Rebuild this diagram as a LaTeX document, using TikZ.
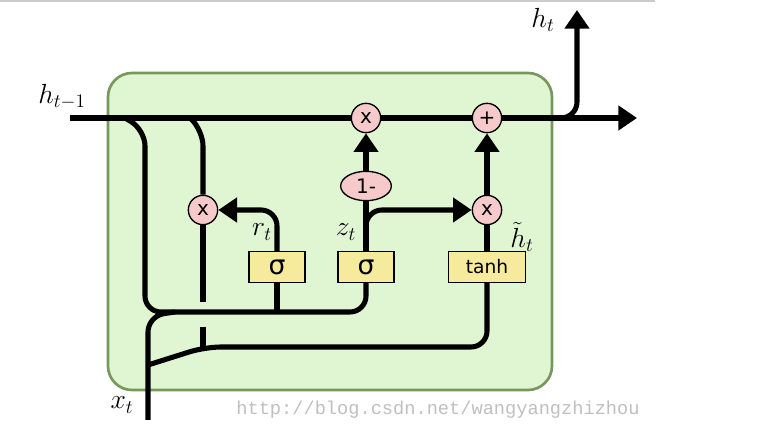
\documentclass[tikz,border=0pt]{standalone}
\usepackage{fontspec}
\newfontfamily\sansf{DejaVu Sans}
\newfontfamily\monof{Liberation Mono}
\usetikzlibrary{arrows.meta,shapes.geometric}
\definecolor{boxgreen}{HTML}{E0F5D2}
\definecolor{boxedge}{HTML}{77985C}
\definecolor{pinkc}{HTML}{F6C9CB}
\definecolor{yel}{HTML}{F6EA9C}
\begin{document}
\begin{tikzpicture}[x=0.75pt,y=-0.75pt,
  wire/.style={line width=3.8pt,rounded corners=12pt},
  arr/.style={wire,-{Triangle[length=14pt,width=18pt]}},
  op/.style={circle,draw,line width=1pt,fill=pinkc,minimum size=22pt,inner sep=0pt,font=\sansf\fontsize{15}{15}\selectfont},
  gate/.style={draw,line width=1pt,fill=yel,minimum height=23pt,inner sep=1pt,font=\sansf\fontsize{20}{20}\selectfont},
  lab/.style={font=\fontsize{21}{21}\selectfont}]
\useasboundingbox (0,0) rectangle (769,427);
\draw[gray!40,line width=0.8pt] (0,1) -- (655,1);
\draw[boxedge,fill=boxgreen,line width=2pt,rounded corners=18pt] (108,73) rectangle (552,390);
% nodes
\node[op] (m1) at (366,118) {x};
\node[op] (p) at (487,118) {+};
\node[op] (mr) at (203,210) {x};
\node[op] (mh) at (487,210) {x};
\node[ellipse,draw,line width=1pt,fill=pinkc,minimum width=38pt,minimum height=22pt,inner sep=0pt,font=\sansf\fontsize{15}{15}\selectfont] (om) at (366,186) {1-};
\node[gate,minimum width=42pt] (sr) at (277,267) {σ};
\node[gate,minimum width=42pt] (sz) at (366,267) {σ};
\node[gate,minimum width=58pt,font=\sansf\fontsize{14}{14}\selectfont] (th) at (487,267) {tanh};
\coordinate (hin) at (70,118);
\coordinate (hout) at (637,118);
\coordinate (htop) at (577,10);
\coordinate (xin) at (148,420);
% wires
\draw[wire] (hin) -- (m1);
\draw[wire] (m1) -- (p);
\draw[arr] (p) -- (hout);
\draw[arr] (555,118) -| (htop);
\draw[wire] (125,118) -- (145,130) -- (145,312) -- (366,312) -- (sz.south);
\draw[wire] (sr.south) -- (277,312);
\draw[wire] (xin) -- (148,316) -- (175,312);
\draw[wire] (190,118) -- (203,130) -- (mr);
\draw[wire] (mr) -- (203,302);
\draw[wire] (203,327) -- (203,347);
\draw[wire] (148,365) -- (205,347) -- (487,347) -- (th.south);
\draw[arr] (sr.north) |- (mr);
\draw[wire] (sz.north) -- (om);
\draw[arr] (om) -- (m1);
\draw[arr] (366,235) |- (mh);
\draw[wire] (th.north) -- (mh);
\draw[arr] (mh) -- (p);
% labels
\node[lab] at (62,97) {$h_{t-1}$};
\node[lab] at (543,20) {$h_t$};
\node[lab] at (262,232) {$r_t$};
\node[lab] at (346,232) {$z_t$};
\node[lab] at (522,237) {$\tilde{h}_t$};
\node[lab] at (122,405) {$x_t$};
\node[gray!50,font=\monof\fontsize{14}{14}\selectfont] at (438,410) {http://blog.csdn.net/wangyangzhizhou};
\end{tikzpicture}
\end{document}
